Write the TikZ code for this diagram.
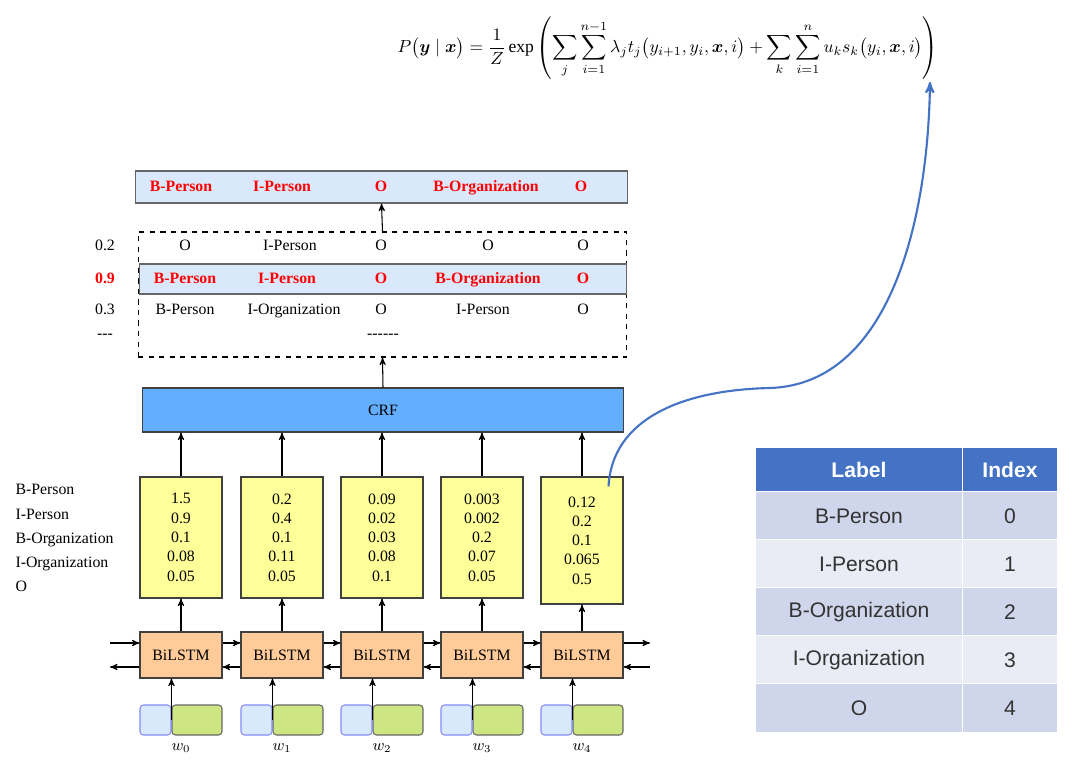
\documentclass[tikz,border=0pt]{standalone}
\usepackage{amsmath,amssymb}
\usepackage{fontspec}
\setmainfont{Liberation Serif}
\newfontfamily\sans{Liberation Sans}
\usetikzlibrary{arrows,positioning}
\definecolor{cell_yell}{RGB}{255,255,153}
\definecolor{cell_org}{RGB}{255,204,153}
\definecolor{emb_blue}{RGB}{218,232,252}
\definecolor{emb_green}{RGB}{205,230,130}
\definecolor{crf_blue}{RGB}{100,174,255}
\definecolor{row_blue}{RGB}{218,232,252}
\definecolor{tab_head}{RGB}{68,114,196}
\definecolor{tab_a}{RGB}{207,213,234}
\definecolor{tab_b}{RGB}{233,235,245}
\definecolor{curve_blue}{RGB}{68,114,196}
\begin{document}
\begin{tikzpicture}[x=0.02cm,y=-0.02cm,>=stealth',semithick]
    \tikzstyle{score}=[draw=black!75, fill=cell_yell, minimum width=1.64cm, align=center, font=\small, inner sep=2pt]
    \tikzstyle{lstm}=[draw=black!75, fill=cell_org, minimum width=1.64cm, minimum height=0.92cm, font=\small]
    \tikzstyle{tag}=[font=\small, text height=1.6ex, text depth=0.4ex]
    \tikzstyle{best}=[font=\small\bfseries, text=red, text height=1.6ex, text depth=0.4ex]
    \tikzstyle{cell}=[minimum height=0.96cm, font=\sans\large, text=black!80]
    \useasboundingbox (0,0) rectangle (1076,768);

    \node (formula) at (668,48) {$P\big(\boldsymbol{y}\mid\boldsymbol{x}\big)=\dfrac{1}{Z}\exp\left(\displaystyle\sum_j\sum_{i=1}^{n-1}\lambda_j t_j\big(y_{i+1},y_i,\boldsymbol{x},i\big)+\sum_k\sum_{i=1}^{n}u_k s_k\big(y_i,\boldsymbol{x},i\big)\right)$};

    % output row
    \node[draw=black!60, fill=row_blue, minimum width=9.86cm, minimum height=0.64cm] (out) at (381.5,187) {};
    \node[best] at (181,187) {B-Person};
    \node[best] at (282,187) {I-Person};
    \node[best] at (381,187) {O};
    \node[best] at (486,187) {B-Organization};
    \node[best] at (581,187) {O};

    % candidate paths
    \node[draw, dashed, minimum width=9.78cm, minimum height=2.5cm] (paths) at (382.5,294.5) {};
    \node[draw=black!60, fill=row_blue, minimum width=9.76cm, minimum height=0.6cm] (hl) at (383,279) {};
    \node[tag] at (105,246) {0.2};
    \node[best] at (105,279) {0.9};
    \node[tag] at (105,310) {0.3};
    \node[tag] at (105,334) {-{}-{}-};
    \foreach \t/\x in {O/185,I-Person/290,O/381,O/488,O/583}
      \node[tag] at (\x,246) {\t};
    \foreach \t/\x in {B-Person/185,I-Person/287,O/381,B-Organization/488,O/583}
      \node[best] at (\x,279) {\t};
    \foreach \t/\x in {B-Person/185,I-Organization/294,O/381,I-Person/483,O/583}
      \node[tag] at (\x,310) {\t};
    \node[tag] at (383,334) {-{}-{}-{}-{}-{}-};
    \draw[->] (paths.north) -- (out.south);

    % CRF
    \node[draw=black!75, fill=crf_blue, minimum width=9.64cm, minimum height=0.88cm, font=\small] (crf) at (383,410) {CRF};
    \draw[->] (crf.north) -- (paths.south);

    % labels on the left
    \node[align=left, anchor=north west, inner sep=0pt, font=\small\linespread{1.25}\selectfont] at (15,484) {B-Person\\I-Person\\B-Organization\\I-Organization\\O};

    % columns
    \foreach \i/\x/\s in {0/181/{1.5\\0.9\\0.1\\0.08\\0.05},1/282/{0.2\\0.4\\0.1\\0.11\\0.05},2/382/{0.09\\0.02\\0.03\\0.08\\0.1},3/482/{0.003\\0.002\\0.2\\0.07\\0.05}} {
      \node[score, minimum height=2.42cm] (s\i) at (\x,537.5) {\s};
      \node[lstm] (l\i) at (\x,655) {BiLSTM};
      \node[draw=black!60, fill=emb_green, rounded corners=2pt, minimum width=1cm, minimum height=0.6cm] (g\i) at (\x+16,720) {};
      \node[draw=emb_blue!60!blue, fill=emb_blue, rounded corners=2pt, minimum width=0.62cm, minimum height=0.6cm] (b\i) at (\x-25.5,720) {};
      \node[font=\small] (w\i) at (\x,748) {$w_{\i}$};
    }
    \node[score, minimum height=2.54cm] (s4) at (582,540.5) {0.12\\0.2\\0.1\\0.065\\0.5};
    \node[lstm] (l4) at (582,655) {BiLSTM};
    \node[draw=black!60, fill=emb_green, rounded corners=2pt, minimum width=1cm, minimum height=0.6cm] (g4) at (598,720) {};
    \node[draw=emb_blue!60!blue, fill=emb_blue, rounded corners=2pt, minimum width=0.62cm, minimum height=0.6cm] (b4) at (556.5,720) {};
    \node[font=\small] (w4) at (582,748) {$w_{4}$};

    \foreach \i in {0,...,4} {
      \draw[->] (l\i.north) -- (s\i.north |- s\i.south);
      \draw[->] (s\i.north) -- (s\i.north |- crf.south);
      \draw[->] (g\i.west) -- (g\i.west |- l\i.south);
    }
    \foreach \i/\j in {0/1,1/2,2/3,3/4} {
      \draw[->] ([yshift=0.24cm]l\i.east) -- ([yshift=0.24cm]l\j.west);
      \draw[->] ([yshift=-0.24cm]l\j.west) -- ([yshift=-0.24cm]l\i.east);
    }
    \coordinate (inL) at (110,643);
    \coordinate (outL) at (110,667);
    \coordinate (outR) at (650,643);
    \coordinate (inR) at (650,667);
    \draw[->] (inL) -- (inL -| l0.west);
    \draw[->] (outL -| l0.west) -- (outL);
    \draw[->] (outR -| l4.east) -- (outR);
    \draw[->] (inR) -- (inR -| l4.east);

    % curve to the formula
    \coordinate (tip) at (930,82);
    \draw[->, curve_blue, very thick] ([xshift=-0.3cm,yshift=-0.2cm]s4.north east) .. controls (612,420) and (680,390) .. (770,388) .. controls (890,384) and (928,220) .. (tip);

    % table
    \foreach \r/\lab/\n/\c in {0/B-Person/0/tab_a,1/I-Person/1/tab_b,2/B-Organization/2/tab_a,3/I-Organization/3/tab_b,4/O/4/tab_a} {
      \node[cell, fill=\c, minimum width=4.12cm] (lab\r) at (859,516+48*\r) {\lab};
      \node[cell, fill=\c, minimum width=1.9cm] (idx\r) at (1010,516+48*\r) {\n};
    }
    \node[cell, fill=tab_head, minimum width=4.12cm, minimum height=0.88cm, text=white, font=\sans\large\bfseries] (labh) at (859,470) {Label};
    \node[cell, fill=tab_head, minimum width=1.9cm, minimum height=0.88cm, text=white, font=\sans\large\bfseries] (idxh) at (1010,470) {Index};
    \foreach \r in {0,...,4} \draw[white, thick] (lab\r.north west) -- (idx\r.north east);
    \draw[white, thick] (labh.north east) -- (lab4.south east);
\end{tikzpicture}
\end{document}
